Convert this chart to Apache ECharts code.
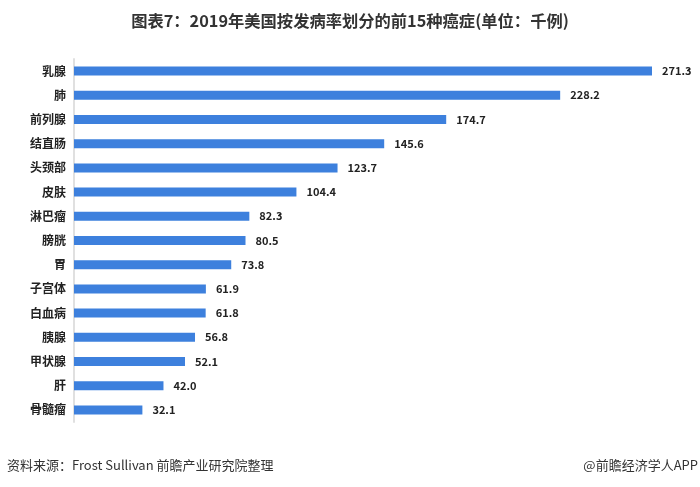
<!DOCTYPE html>
<html>
<head>
    <meta charset="utf-8" />
    <title>ECharts</title>
    <script src="https://cdn.jsdelivr.net/npm/echarts@6/dist/echarts.min.js"></script>
    <style>
        body { margin: 0; background: #fff; }
        #main { width: 700px; height: 487px; }
    </style>
</head>
<body>
    <div id="main"></div>
    <script type="text/javascript">
        // 癌症类别与发病数（千例）
        var categories = ['乳腺', '肺', '前列腺', '结直肠', '头颈部', '皮肤', '淋巴瘤', '膀胱', '胃', '子宫体', '白血病', '胰腺', '甲状腺', '肝', '骨髓瘤'];
        var values = [271.3, 228.2, 174.7, 145.6, 123.7, 104.4, 82.3, 80.5, 73.8, 61.9, 61.8, 56.8, 52.1, 42.0, 32.1];

        var myChart = echarts.init(document.getElementById('main'));
        var cjk = '"Noto Sans CJK SC", "Microsoft YaHei", sans-serif';

        var option = {
            backgroundColor: '#fff',
            animation: false,
            title: {
                text: '图表7：2019年美国按发病率划分的前15种癌症(单位：千例)',
                left: 'center',
                top: 8,
                textStyle: {
                    fontFamily: cjk,
                    fontSize: 16.3,
                    fontWeight: 'bold',
                    color: '#333'
                }
            },
            graphic: [{
                type: 'text',
                left: 7,
                top: 459,
                style: {
                    text: '资料来源：Frost Sullivan 前瞻产业研究院整理',
                    fontFamily: cjk,
                    fontSize: 13,
                    fill: '#333'
                }
            }, {
                type: 'text',
                right: 2,
                top: 459,
                style: {
                    text: '@前瞻经济学人APP',
                    fontFamily: cjk,
                    fontSize: 13,
                    fill: '#333'
                }
            }],
            grid: {
                left: 74,
                right: 48,
                top: 59,
                bottom: 65
            },
            xAxis: {
                type: 'value',
                min: 0,
                max: 271.3,
                show: false
            },
            yAxis: {
                type: 'category',
                data: categories,
                inverse: true,
                axisLine: {
                    show: true,
                    lineStyle: { color: '#e0e0e0', width: 2 }
                },
                axisTick: { show: false },
                axisLabel: {
                    margin: 8,
                    fontFamily: cjk,
                    fontSize: 12,
                    fontWeight: 'bold',
                    color: '#222'
                }
            },
            series: [{
                type: 'bar',
                data: values,
                barWidth: 9,
                itemStyle: { color: '#3d80dd' },
                label: {
                    show: true,
                    position: 'right',
                    distance: 10,
                    fontFamily: cjk,
                    fontSize: 11,
                    fontWeight: 'bold',
                    color: '#222',
                    formatter: function (p) { return p.value.toFixed(1); }
                }
            }]
        };

        myChart.setOption(option);
    </script>
</body>
</html>
